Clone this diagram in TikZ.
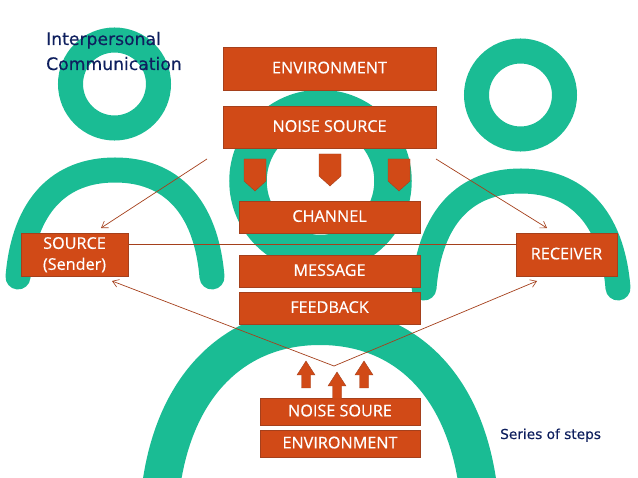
\documentclass[tikz,border=0pt]{standalone}
\usepackage{fontspec}
\setmainfont{Open Sans}[FakeBold=0.5]
\newfontfamily\titlefont{DejaVu Sans}[FakeBold=0.3]
\usetikzlibrary{arrows.meta}
\definecolor{teal1}{HTML}{1ABC94}
\definecolor{rust}{HTML}{D14A17}
\definecolor{rustdark}{HTML}{A5401C}
\definecolor{navy1}{HTML}{0E1F5E}
\tikzset{
  x=1pt,y=-1pt,
  ring/.style={draw=teal1,line width=25pt,fill=none},
  arch/.style={draw=teal1,line width=25pt,line cap=round,fill=none},
  box/.style={draw=rustdark,line width=0.6pt,fill=rust,text=white,inner sep=0pt,align=center,text depth=2pt,font=\fontsize{16.2}{21}\selectfont},
  link/.style={draw=rustdark,line width=0.7pt},
  tip/.style={-{Straight Barb[length=6pt,width=8pt,line width=0.6pt]}},
  marker/.style={draw=rustdark,line width=0.4pt,fill=rust},
  caption/.style={text=navy1,inner sep=0pt,anchor=base west},
}
\begin{document}
\begin{tikzpicture}
\useasboundingbox (0,0) rectangle (638,478);
\fill[white] (0,0) rectangle (638,478);
\begin{scope}
\clip (0,0) rectangle (638,478);
% left person
\draw[ring] (114.5,84) circle[radius=44];
\draw[arch] (18,277) .. controls (24,205) and (60,170) .. (115,170) .. controls (170,170) and (206,205) .. (212,277);
% right person
\draw[ring] (520.5,95) circle[radius=44];
\draw[arch] (424,288) .. controls (430,216) and (466,181) .. (521,181) .. controls (576,181) and (612,216) .. (618,288);
% centre person
\draw[ring,line width=37.5pt] (320.5,181) circle[radius=72.5];
\draw[arch,line width=38pt,line cap=butt] (160,495) .. controls (172,385) and (235,326) .. (320,326) .. controls (405,326) and (467,385) .. (479,495);
\end{scope}

\node[box,minimum width=213pt,minimum height=43pt] (env) at (329.5,68.5) {ENVIRONMENT};
\node[box,minimum width=213pt,minimum height=42pt] (noise) at (329.5,127) {NOISE SOURCE};
\node[box,minimum width=181pt,minimum height=32pt] (channel) at (329.5,217) {CHANNEL};
\node[box,minimum width=181pt,minimum height=32pt] (message) at (329.5,271) {MESSAGE};
\node[box,minimum width=181pt,minimum height=32pt] (feedback) at (329.5,308) {FEEDBACK};
\node[box,minimum width=160pt,minimum height=27pt] (noise2) at (340,411.5) {NOISE SOURE};
\node[box,minimum width=160pt,minimum height=27pt] (env2) at (340,443.5) {ENVIRONMENT};
\node[box,minimum width=107pt,minimum height=43pt] (source) at (74.5,254.5) {SOURCE\\(Sender)};
\node[box,minimum width=101pt,minimum height=43pt] (receiver) at (566.5,254.5) {RECEIVER};

% pentagons
\foreach \px/\py in {244/159,319/154,388/159}{
  \draw[marker,shift={(\px,\py)}] (0,0) -- (22,0) -- (22,22) -- (11,32) -- (0,22) -- cycle;
}
% up arrows
\foreach \ax/\ay in {306/361,337/372,364/361}{
  \draw[marker,shift={(\ax,\ay)}] (0,0) -- (9,14) -- (4.5,14) -- (4.5,27) -- (-4.5,27) -- (-4.5,14) -- (-9,14) -- cycle;
}

% connectors
\coordinate (srcline) at (128,244);
\coordinate (rcvline) at (516,244);
\coordinate (tl) at (207,159);
\coordinate (tr) at (436,159);
\coordinate (srctip) at (101,228);
\coordinate (rcvtip) at (547,228);
\coordinate (vtip) at (334,366);
\coordinate (srcb) at (112,281);
\coordinate (rcvb) at (537,281);
\draw[link] (srcline) -- (rcvline);
\draw[link,tip] (tl) -- (srctip);
\draw[link,tip] (tr) -- (rcvtip);
\draw[link,tip] (vtip) -- (srcb);
\draw[link,tip] (vtip) -- (rcvb);

\node[caption,font=\titlefont\fontsize{17.2}{25}\selectfont] (title1) at (46,45) {Interpersonal};
\node[caption,font=\titlefont\fontsize{17.2}{25}\selectfont] (title2) at (46,70) {Communication};
\node[caption,font=\titlefont\fontsize{13.7}{16}\selectfont] (steps) at (500,439) {Series of steps};
\end{tikzpicture}
\end{document}
